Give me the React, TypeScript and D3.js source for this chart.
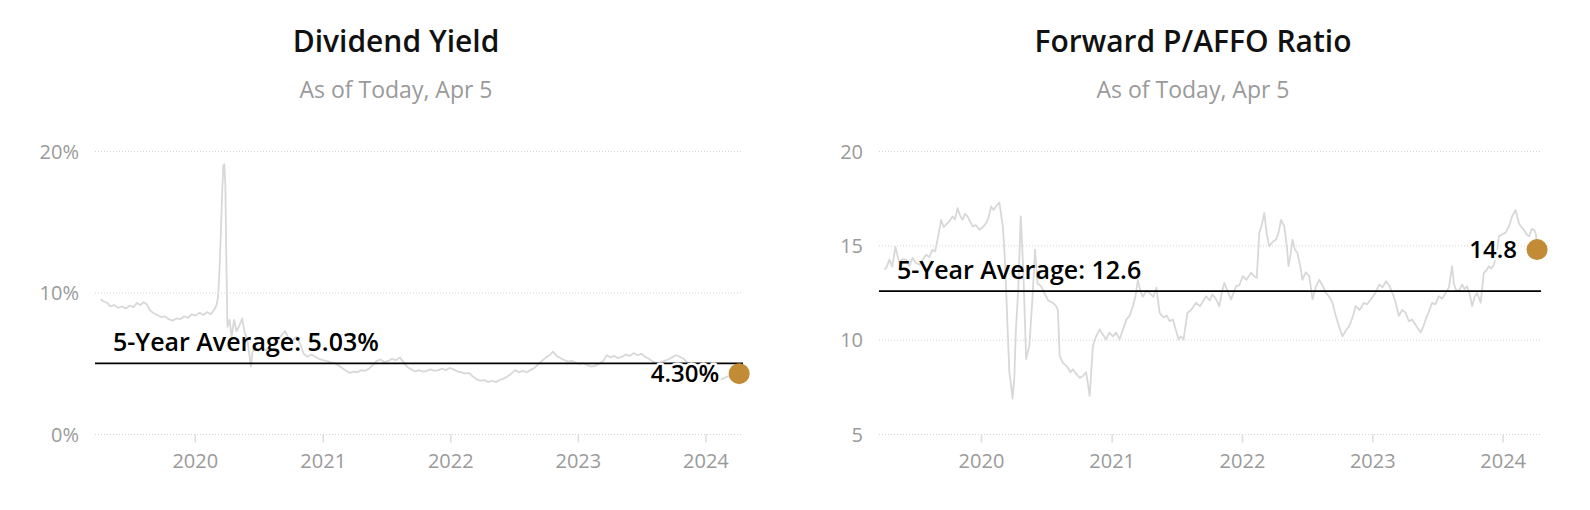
import React from "react";
import * as d3 from "d3";

const W = 1590;
const H = 510;

const dateDomain = ["2019-03-20", "2024-04-16"];
const yearTicks = ["2020-01-01", "2021-01-01", "2022-01-01", "2023-01-01", "2024-01-01"];
const yearLabels = ["2020", "2021", "2022", "2023", "2024"];

const yieldTicks = [0, 10, 20];
const paffoTicks = [5, 10, 15, 20];

const yieldAverage = 5.03;
const paffoAverage = 12.6;

const titles = ["Dividend Yield", "Forward P/AFFO Ratio"];
const subtitle = "As of Today, Apr 5";

const dividendYield: [string, number][] = [
  ["2019-04-05",9.55],["2019-04-14",9.4],["2019-04-24",9.3],["2019-05-03",9.05],["2019-05-14",9.15],["2019-05-25",8.95],
  ["2019-06-05",9.05],["2019-06-16",8.9],["2019-06-27",9.1],["2019-07-08",9.0],["2019-07-18",9.3],["2019-07-28",9.15],
  ["2019-08-06",9.35],["2019-08-15",9.2],["2019-08-24",8.8],["2019-09-02",8.6],["2019-09-14",8.45],["2019-09-25",8.3],
  ["2019-10-06",8.35],["2019-10-17",8.15],["2019-10-28",8.05],["2019-11-08",8.2],["2019-11-19",8.15],["2019-11-30",8.35],
  ["2019-12-11",8.25],["2019-12-22",8.5],["2020-01-02",8.4],["2020-01-13",8.6],["2020-01-24",8.45],["2020-02-04",8.65],
  ["2020-02-14",8.5],["2020-02-22",8.75],["2020-03-01",9.1],["2020-03-06",9.7],["2020-03-10",11.5],["2020-03-14",14.2],
  ["2020-03-18",17.2],["2020-03-21",19.0],["2020-03-24",19.1],["2020-03-27",17.6],["2020-03-30",12.0],["2020-04-02",7.6],
  ["2020-04-08",8.1],["2020-04-14",6.9],["2020-04-21",8.1],["2020-04-28",7.3],["2020-05-06",7.7],["2020-05-14",8.2],
  ["2020-05-21",7.2],["2020-05-29",6.7],["2020-06-08",4.8],["2020-06-12",5.8],["2020-06-20",6.2],["2020-06-30",5.9],
  ["2020-07-10",6.1],["2020-07-21",5.95],["2020-08-01",6.2],["2020-08-12",6.4],["2020-08-23",6.6],["2020-09-03",7.0],
  ["2020-09-14",7.3],["2020-09-24",6.8],["2020-10-05",6.6],["2020-10-16",6.9],["2020-10-27",6.4],["2020-11-06",5.7],
  ["2020-11-17",5.5],["2020-11-28",5.65],["2020-12-09",5.5],["2020-12-20",5.35],["2020-12-31",5.25],["2021-01-11",5.2],
  ["2021-01-22",5.1],["2021-02-02",5.05],["2021-02-13",4.9],["2021-02-24",4.7],["2021-03-07",4.5],["2021-03-18",4.35],
  ["2021-03-29",4.45],["2021-04-09",4.4],["2021-04-20",4.55],["2021-05-01",4.5],["2021-05-12",4.65],["2021-05-23",4.9],
  ["2021-06-03",5.2],["2021-06-14",5.3],["2021-06-25",5.1],["2021-07-06",5.2],["2021-07-17",5.35],["2021-07-28",5.25],
  ["2021-08-08",5.45],["2021-08-19",5.1],["2021-08-30",4.75],["2021-09-10",4.6],["2021-09-21",4.45],["2021-10-02",4.55],
  ["2021-10-13",4.45],["2021-10-24",4.5],["2021-11-04",4.6],["2021-11-15",4.5],["2021-11-26",4.55],["2021-12-07",4.65],
  ["2021-12-18",4.55],["2021-12-29",4.7],["2022-01-09",4.6],["2022-01-20",4.45],["2022-01-31",4.4],["2022-02-11",4.3],
  ["2022-02-22",4.35],["2022-03-05",4.1],["2022-03-16",3.9],["2022-03-27",3.8],["2022-04-07",3.85],["2022-04-18",3.7],
  ["2022-04-29",3.8],["2022-05-10",3.7],["2022-05-21",3.85],["2022-06-01",3.95],["2022-06-12",4.1],["2022-06-23",4.3],
  ["2022-07-04",4.55],["2022-07-15",4.4],["2022-07-26",4.5],["2022-08-06",4.4],["2022-08-17",4.55],["2022-08-28",4.7],
  ["2022-09-08",4.95],["2022-09-19",5.2],["2022-09-30",5.45],["2022-10-11",5.6],["2022-10-20",5.85],["2022-10-31",5.55],
  ["2022-11-11",5.4],["2022-11-22",5.25],["2022-12-03",5.15],["2022-12-14",5.2],["2022-12-25",5.05],["2023-01-05",5.0],
  ["2023-01-16",5.05],["2023-01-27",4.9],["2023-02-07",4.8],["2023-02-18",4.85],["2023-03-01",5.0],["2023-03-12",5.15],
  ["2023-03-23",5.6],["2023-04-03",5.45],["2023-04-14",5.55],["2023-04-25",5.4],["2023-05-06",5.5],["2023-05-17",5.65],
  ["2023-05-28",5.55],["2023-06-08",5.75],["2023-06-19",5.6],["2023-06-30",5.7],["2023-07-11",5.5],["2023-07-22",5.35],
  ["2023-08-02",5.15],["2023-08-13",5.05],["2023-08-24",5.1],["2023-09-04",5.2],["2023-09-15",5.3],["2023-09-26",5.45],
  ["2023-10-07",5.6],["2023-10-18",5.5],["2023-10-29",5.35],["2023-11-09",5.1],["2023-11-20",4.85],["2023-12-01",4.6],
  ["2023-12-12",4.4],["2023-12-23",4.25],["2024-01-03",4.1],["2024-01-14",4.0],["2024-01-25",3.95],["2024-02-05",4.0],
  ["2024-02-16",3.9],["2024-02-27",4.05],["2024-03-09",4.15],["2024-03-20",4.2],["2024-03-30",4.25],["2024-04-05",4.3],
];

const forwardPAFFO: [string, number][] = [
  ["2019-04-04",13.74],["2019-04-11",13.9],["2019-04-18",14.27],["2019-04-26",13.9],["2019-05-05",14.94],["2019-05-16",14.1],
  ["2019-05-25",14.3],["2019-06-04",14.27],["2019-06-13",13.95],["2019-06-22",14.36],["2019-07-01",14.1],["2019-07-11",14.0],
  ["2019-07-20",14.25],["2019-07-30",14.53],["2019-08-08",14.4],["2019-08-17",14.8],["2019-08-24",14.7],["2019-08-31",15.33],
  ["2019-09-10",16.38],["2019-09-17",16.0],["2019-09-24",16.12],["2019-10-03",16.3],["2019-10-12",16.56],["2019-10-19",16.4],
  ["2019-10-26",17.0],["2019-11-02",16.6],["2019-11-09",16.38],["2019-11-16",16.7],["2019-11-23",16.56],["2019-11-30",16.3],
  ["2019-12-07",16.03],["2019-12-16",16.1],["2019-12-26",15.85],["2020-01-05",16.0],["2020-01-14",16.2],["2020-01-21",16.5],
  ["2020-01-28",17.09],["2020-02-04",16.9],["2020-02-11",17.1],["2020-02-20",17.3],["2020-03-01",16.0],["2020-03-06",14.5],
  ["2020-03-10",12.7],["2020-03-15",10.2],["2020-03-19",8.3],["2020-03-24",7.6],["2020-03-28",6.9],["2020-04-02",8.0],
  ["2020-04-06",10.4],["2020-04-13",12.7],["2020-04-20",16.56],["2020-04-24",15.0],["2020-04-28",13.2],["2020-05-05",9.0],
  ["2020-05-14",9.7],["2020-05-23",12.3],["2020-05-30",14.8],["2020-06-06",13.0],["2020-06-16",12.86],["2020-06-25",12.5],
  ["2020-07-06",12.1],["2020-07-19",11.98],["2020-07-28",11.8],["2020-08-02",11.6],["2020-08-07",9.16],["2020-08-16",8.8],
  ["2020-08-28",8.6],["2020-09-06",8.3],["2020-09-13",8.46],["2020-09-23",8.2],["2020-10-02",8.0],["2020-10-11",8.1],
  ["2020-10-20",8.3],["2020-10-25",7.7],["2020-10-30",7.05],["2020-11-08",9.7],["2020-11-17",10.2],["2020-11-27",10.57],
  ["2020-12-06",10.3],["2020-12-15",10.04],["2020-12-24",10.4],["2021-01-03",10.2],["2021-01-12",10.4],["2021-01-22",10.05],
  ["2021-02-01",10.6],["2021-02-10",11.1],["2021-02-19",11.3],["2021-02-28",11.8],["2021-03-07",12.3],["2021-03-14",13.2],
  ["2021-03-21",12.6],["2021-03-28",12.3],["2021-04-06",12.6],["2021-04-16",12.5],["2021-04-26",12.3],["2021-05-05",12.78],
  ["2021-05-14",11.45],["2021-05-25",11.2],["2021-06-03",11.3],["2021-06-11",11.0],["2021-06-20",11.1],["2021-06-28",10.57],
  ["2021-07-06",10.04],["2021-07-12",10.2],["2021-07-20",10.04],["2021-07-31",11.45],["2021-08-10",11.6],["2021-08-24",11.98],
  ["2021-09-04",11.8],["2021-09-21",12.33],["2021-10-01",12.1],["2021-10-09",12.42],["2021-10-18",12.2],["2021-10-28",11.8],
  ["2021-11-04",12.5],["2021-11-11",13.04],["2021-11-20",12.6],["2021-11-30",12.16],["2021-12-07",12.5],["2021-12-14",12.86],
  ["2021-12-23",12.9],["2022-01-02",13.4],["2022-01-12",13.2],["2022-01-25",13.57],["2022-02-03",13.4],["2022-02-10",13.3],
  ["2022-02-17",15.68],["2022-02-24",16.1],["2022-03-03",16.74],["2022-03-10",15.6],["2022-03-17",14.97],["2022-03-26",15.2],
  ["2022-04-05",15.33],["2022-04-12",15.7],["2022-04-19",16.38],["2022-04-28",16.03],["2022-05-05",15.0],["2022-05-10",13.92],
  ["2022-05-16",14.6],["2022-05-21",15.33],["2022-05-28",14.8],["2022-06-04",14.62],["2022-06-11",14.0],["2022-06-18",13.2],
  ["2022-06-27",13.6],["2022-07-07",13.39],["2022-07-16",12.16],["2022-07-25",12.8],["2022-08-04",13.2],["2022-08-13",12.9],
  ["2022-08-23",12.5],["2022-09-01",12.3],["2022-09-10",11.98],["2022-09-19",11.3],["2022-09-28",10.75],["2022-10-08",10.2],
  ["2022-10-17",10.5],["2022-10-27",10.75],["2022-11-05",11.2],["2022-11-14",11.8],["2022-11-25",11.6],["2022-12-07",11.98],
  ["2022-12-16",11.9],["2022-12-26",12.16],["2023-01-08",12.5],["2023-01-19",12.95],["2023-01-28",12.8],["2023-02-07",13.12],
  ["2023-02-16",12.9],["2023-02-25",12.5],["2023-03-06",12.0],["2023-03-15",11.28],["2023-03-24",11.6],["2023-04-03",11.45],
  ["2023-04-12",11.0],["2023-04-21",11.1],["2023-05-01",10.8],["2023-05-15",10.4],["2023-05-22",10.7],["2023-05-29",11.1],
  ["2023-06-07",11.5],["2023-06-16",11.98],["2023-06-25",11.9],["2023-07-05",12.33],["2023-07-14",12.2],["2023-07-24",12.5],
  ["2023-08-02",12.8],["2023-08-11",13.92],["2023-08-16",13.0],["2023-08-21",12.7],["2023-08-30",12.6],["2023-09-08",12.95],
  ["2023-09-15",12.7],["2023-09-22",12.86],["2023-10-01",12.3],["2023-10-06",11.8],["2023-10-13",12.3],["2023-10-20",12.5],
  ["2023-10-30",11.98],["2023-11-08",13.57],["2023-11-15",13.7],["2023-11-22",13.92],["2023-11-29",13.8],["2023-12-06",14.0],
  ["2023-12-13",14.5],["2023-12-20",15.5],["2023-12-29",15.6],["2024-01-08",15.7],["2024-01-17",16.03],["2024-01-26",16.56],
  ["2024-02-05",16.9],["2024-02-14",16.2],["2024-02-21",16.0],["2024-02-28",15.85],["2024-03-07",15.6],["2024-03-14",15.5],
  ["2024-03-21",15.9],["2024-03-28",15.85],["2024-04-02",15.6],["2024-04-05",14.8],
];

const FONT = "'Open Sans', 'Noto Sans', sans-serif";
const parse = d3.utcParse("%Y-%m-%d");

type PanelProps = {
  cx: number;
  title: string;
  data: [string, number][];
  yDomain: [number, number];
  yTicks: number[];
  tickFmt: (v: number) => string;
  avg: number;
  avgLabel: string;
  curLabel: string;
  xRange: [number, number];
};

function Panel(p: PanelProps) {
  const x = d3
    .scaleUtc()
    .domain([parse(dateDomain[0]) as Date, parse(dateDomain[1]) as Date])
    .range(p.xRange);
  const y = d3.scaleLinear().domain(p.yDomain).range([434.5, 151.5]);
  const line = d3
    .line<[string, number]>()
    .x((d) => x(parse(d[0]) as Date))
    .y((d) => y(d[1]));
  const last = p.data[p.data.length - 1];
  const lx = x(parse(last[0]) as Date);
  const ly = y(last[1]);
  const [x0, x1] = p.xRange;
  const yBottom = y(p.yDomain[0]);
  return (
    <g>
      <text x={p.cx} y={52} textAnchor="middle" fontSize={30} fontWeight={600} fill="#111" fontFamily={FONT}>
        {p.title}
      </text>
      <text x={p.cx} y={98} textAnchor="middle" fontSize={23} fill="#9a9a9a" fontFamily={FONT}>
        {subtitle}
      </text>
      {p.yTicks.map((t) => (
        <g key={t}>
          <line x1={x0} x2={x1} y1={y(t)} y2={y(t)} stroke="#d4d4d4" strokeWidth={1} strokeDasharray="1 2" />
          <text x={x0 - 16} y={y(t) + 7.3} textAnchor="end" fontSize={20} fill="#9a9a9a" fontFamily={FONT}>
            {p.tickFmt(t)}
          </text>
        </g>
      ))}
      {yearTicks.map((d, i) => {
        const xx = x(parse(d) as Date);
        return (
          <g key={d}>
            <line x1={xx} x2={xx} y1={yBottom} y2={yBottom + 8} stroke="#dcdcdc" strokeWidth={1.5} />
            <text x={xx} y={468} textAnchor="middle" fontSize={20} fill="#9a9a9a" fontFamily={FONT}>
              {yearLabels[i]}
            </text>
          </g>
        );
      })}
      <path d={line(p.data) || ""} fill="none" stroke="#d8d8d8" strokeWidth={1.8} strokeLinejoin="round" />
      <line x1={x0} x2={x1} y1={y(p.avg)} y2={y(p.avg)} stroke="#000" strokeWidth={1.6} />
      <text x={x0 + 18} y={y(p.avg) - 12} fontSize={25} fontWeight={600} fill="#000" fontFamily={FONT}>
        {p.avgLabel}
      </text>
      <circle cx={lx} cy={ly} r={10.5} fill="#C28B35" />
      <text
        x={lx - 20}
        y={ly + 8.8}
        textAnchor="end"
        fontSize={24}
        fontWeight={600}
        fill="#000"
        stroke="#fff"
        strokeWidth={5}
        paintOrder="stroke"
        strokeLinejoin="round"
        fontFamily={FONT}
      >
        {p.curLabel}
      </text>
    </g>
  );
}

export default function App() {
  const yLast = dividendYield[dividendYield.length - 1][1];
  const pLast = forwardPAFFO[forwardPAFFO.length - 1][1];
  return (
    <div style={{ position: "absolute", left: 0, top: 0, background: "#fff" }}>
      <svg width={W} height={H} style={{ display: "block" }}>
        <rect width={W} height={H} fill="#fff" />
        <Panel
          cx={396}
          title={titles[0]}
          data={dividendYield}
          yDomain={[0, 20]}
          yTicks={yieldTicks}
          tickFmt={(v) => `${v}%`}
          avg={yieldAverage}
          avgLabel={`5-Year Average: ${yieldAverage.toFixed(2)}%`}
          curLabel={`${yLast.toFixed(2)}%`}
          xRange={[95, 743]}
        />
        <Panel
          cx={1193}
          title={titles[1]}
          data={forwardPAFFO}
          yDomain={[5, 20]}
          yTicks={paffoTicks}
          tickFmt={(v) => `${v}`}
          avg={paffoAverage}
          avgLabel={`5-Year Average: ${paffoAverage.toFixed(1)}`}
          curLabel={`${pLast.toFixed(1)}`}
          xRange={[879, 1541]}
        />
      </svg>
    </div>
  );
}
